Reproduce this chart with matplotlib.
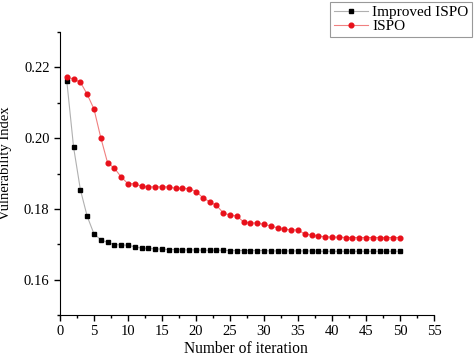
import matplotlib
matplotlib.use("Agg")
import matplotlib.pyplot as plt
from matplotlib.ticker import MultipleLocator

# iterations 1..50
iterations = list(range(1, 51))

improved_ispo = [0.2161, 0.1974, 0.1854, 0.1779, 0.1729, 0.1713, 0.1705, 0.1699, 0.1698, 0.1697,
                 0.1693, 0.1689, 0.1688, 0.1687, 0.1686, 0.1685, 0.1685, 0.1684, 0.1684, 0.1684,
                 0.1683, 0.1683, 0.1683, 0.1683, 0.1682, 0.1682, 0.1682, 0.1682, 0.1682, 0.1682,
                 0.1681, 0.1681, 0.1681, 0.1681, 0.1681, 0.1681, 0.1681, 0.1680, 0.1680, 0.1680,
                 0.1680, 0.1680, 0.1680, 0.1680, 0.1680, 0.1680, 0.1680, 0.1680, 0.1680, 0.1680]

ispo = [0.2173, 0.2167, 0.2158, 0.2124, 0.2082, 0.2001, 0.1930, 0.1915, 0.1890, 0.1871,
        0.1871, 0.1864, 0.1862, 0.1862, 0.1862, 0.1862, 0.1858, 0.1858, 0.1857, 0.1849,
        0.1832, 0.1820, 0.1810, 0.1789, 0.1782, 0.1780, 0.1763, 0.1760, 0.1760, 0.1756,
        0.1752, 0.1746, 0.1742, 0.1741, 0.1740, 0.1729, 0.1726, 0.1723, 0.1721, 0.1720,
        0.1720, 0.1719, 0.1719, 0.1719, 0.1719, 0.1719, 0.1719, 0.1719, 0.1719, 0.1719]

plt.rcParams['font.family'] = ['Liberation Serif', 'DejaVu Serif']

fig = plt.figure(figsize=(4.74, 3.57), dpi=100)
ax = fig.add_axes([60 / 474, 1 - 315 / 357, 374 / 474, 283 / 357])

ax.plot(iterations, improved_ispo, color='#b0b0b0', lw=0.8, marker='s', ms=2.8,
        mfc='black', mec='black', label='Improved ISPO')
ax.plot(iterations, ispo, color='#f08080', lw=0.8, marker='o', ms=3.4,
        mfc='#e8101a', mec='#e8101a', label='ISPO')

ax.set_xlim(0, 55)
ax.set_ylim(0.15, 0.23)
ax.xaxis.set_major_locator(MultipleLocator(5))
ax.xaxis.set_minor_locator(MultipleLocator(2.5))
ax.yaxis.set_minor_locator(MultipleLocator(0.01))
ax.set_yticks([0.16, 0.18, 0.20, 0.22])
ax.set_yticklabels(['0.16', '0.18', '0.20', '0.22'])

for side in ('top', 'right'):
    ax.spines[side].set_visible(False)
ax.tick_params(direction='out', labelsize=10.5, length=4, width=1)
ax.tick_params(which='minor', direction='out', length=2.5, width=1)

ax.set_xlabel('Number of iteration', fontsize=11.2)
ax.xaxis.set_label_coords(0.497, -0.092)
ax.set_ylabel('Vulnerability Index', fontsize=10.5, va='center')
ax.yaxis.set_label_coords(-0.145, 0.537)

leg = fig.legend(loc='upper right', bbox_to_anchor=(1.0, 1.0), fontsize=11,
                 frameon=True, fancybox=False, edgecolor='#808080', borderpad=0.25,
                 labelspacing=0.05, handlelength=2.2, handletextpad=0.3, borderaxespad=0.1)
leg.get_frame().set_linewidth(0.8)

fig.savefig('out.png', dpi=100)
